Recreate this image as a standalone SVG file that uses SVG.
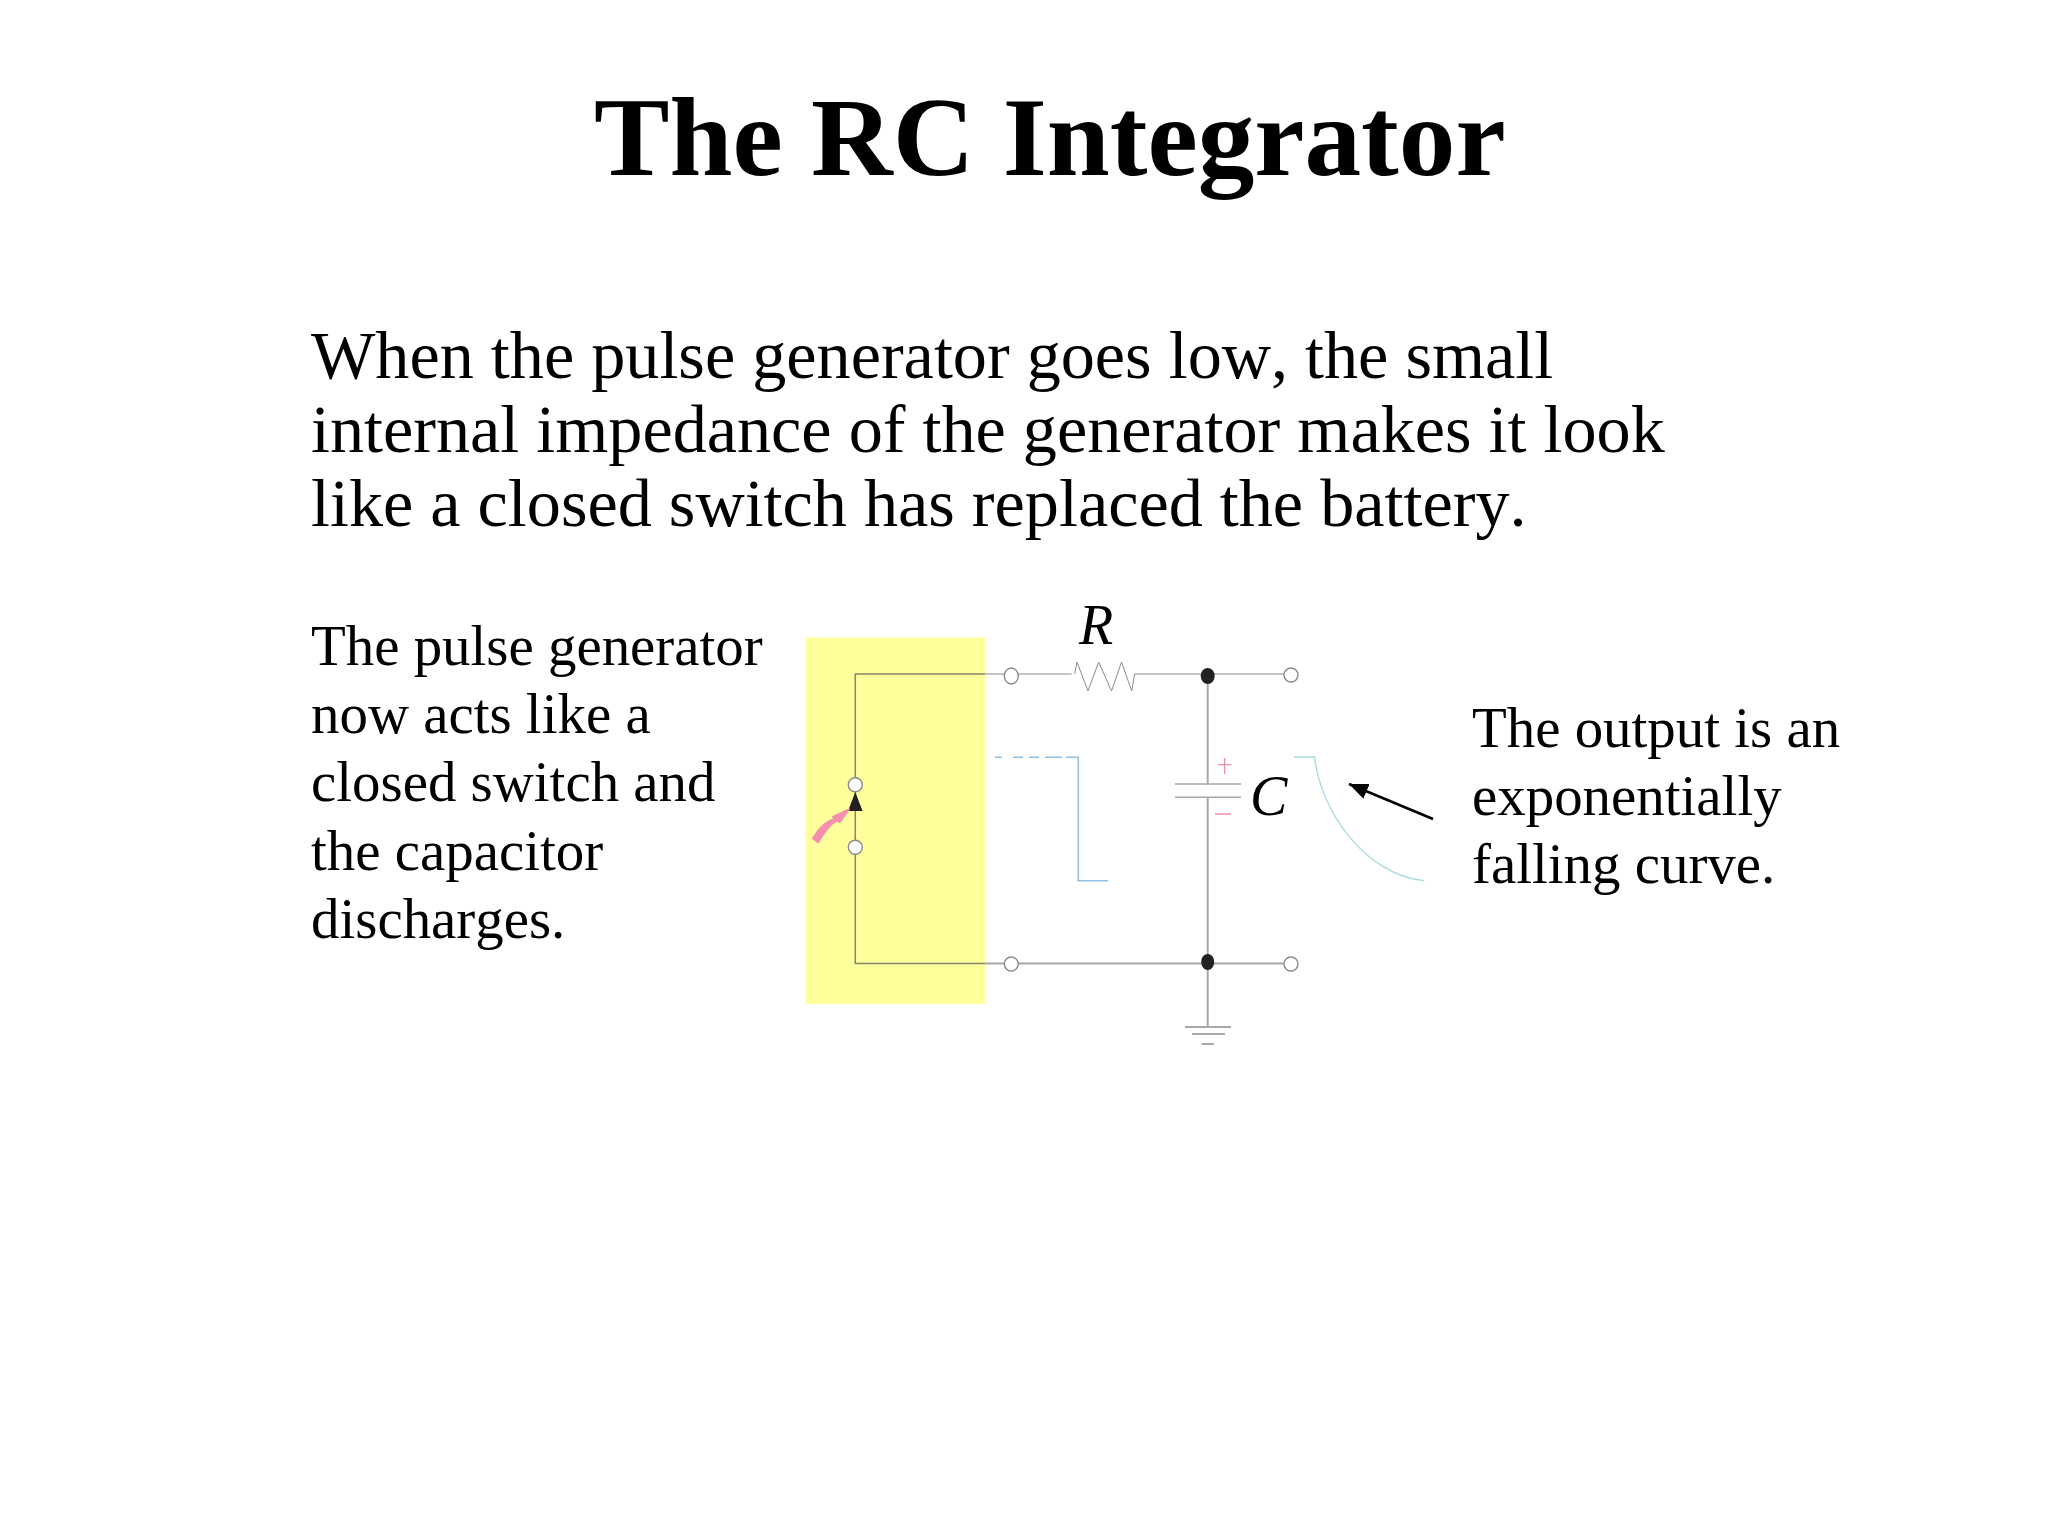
<svg xmlns="http://www.w3.org/2000/svg" width="2048" height="1536" viewBox="0 0 2048 1536">
<style>
text{font-family:"Liberation Serif","Times New Roman",serif;fill:#000;font-kerning:none}
.title{font-size:113.200px;font-weight:bold}
.body{font-size:68.200px}
.side{font-size:56.900px}
.sym{font-size:56px;font-style:italic}
.wire{fill:none;stroke:#a8a8a8;stroke-width:2}
.thin{fill:none;stroke:#8c8c8c;stroke-width:1.200}
.gen{fill:none;stroke:#85856a;stroke-width:1.500}
.term{fill:#fff;stroke:#8a8a8a;stroke-width:1.400}
.dot{fill:#222;stroke:none}
.pol{fill:none;stroke:#ee8fa8;stroke-width:1.300}
</style>
<defs>
<marker id="ah" markerUnits="userSpaceOnUse" markerWidth="20" markerHeight="18" refX="19" refY="8" orient="auto"><path d="M0,0L19,8L0,16Z" fill="#000"/></marker>
</defs>
<rect width="2048" height="1536" fill="#fff"/>
<g id="title"><text class="title" x="594" y="174.500">The RC Integrator</text></g>
<g id="body">
<text class="body" x="311" y="378">When the pulse generator goes low, the small</text>
<text class="body" x="311" y="452">internal impedance of the generator makes it look</text>
<text class="body" x="311" y="525.500">like a closed switch has replaced the battery.</text>
</g>
<g id="left-note">
<text class="side" x="311" y="665">The pulse generator</text>
<text class="side" x="311" y="733">now acts like a</text>
<text class="side" x="311" y="801">closed switch and</text>
<text class="side" x="311" y="870">the capacitor</text>
<text class="side" x="311" y="938">discharges.</text>
</g>
<g id="right-note">
<text class="side" x="1472" y="747">The output is an</text>
<text class="side" x="1472" y="815">exponentially</text>
<text class="side" x="1472" y="883">falling curve.</text>
</g>
<g id="generator"><rect x="805.500" y="637.500" width="179.500" height="366.500" fill="#ffff9c"/></g>
<g id="connectors">
<path class="gen" d="M985,674H855.300V778M855.300,854V963.500H985"/>
<path class="gen" d="M855.300,792V840"/>
<path class="thin" d="M985,674H1004M1018,674H1071.700M1134.700,674H1201M1214,674H1284"/>
<path class="wire" d="M1207.700,684V785M1207.700,797V1027M985,963.500H1004M1018,963.500H1284"/>
<path id="arrow-note" d="M1433,819L1349,784" fill="none" stroke="#000" stroke-width="2.600" marker-end="url(#ah)"/>
</g>
<g id="resistor"><path fill="none" stroke="#8c8c8c" stroke-width="1" d="M1074.700,674L1077,662L1088,691L1098.700,662L1111.500,691L1121.500,662L1131.700,691L1134.700,674"/></g>
<g id="capacitor">
<path class="wire" style="stroke-width:1.500" d="M1175,784H1241M1175,797.300H1241"/>
<path class="pol" d="M1218,764.700H1231.500M1224.700,758V774M1215,814H1231"/>
<text class="sym" x="1250" y="815">C</text>
</g>
<g id="r-label"><text class="sym" x="1079" y="644">R</text></g>
<g id="terminals">
<ellipse class="term" cx="1011.300" cy="676" rx="7" ry="8"/>
<circle class="term" cx="1011.300" cy="964" r="7"/>
<circle class="term" cx="1291" cy="675" r="7"/>
<circle class="term" cx="1291" cy="964" r="7"/>
</g>
<g id="nodes">
<ellipse class="dot" cx="1207.700" cy="676" rx="7" ry="8"/>
<ellipse class="dot" cx="1207.700" cy="962" rx="6.500" ry="8"/>
</g>
<g id="ground"><path class="wire" d="M1185,1027H1231M1192,1034H1225M1201.500,1044H1214"/></g>
<g id="switch">
<circle class="term" cx="855.300" cy="784.700" r="7"/>
<circle class="term" cx="855.300" cy="847.300" r="7"/>
<path d="M855.300,792L862.500,811H848Z" fill="#231f20"/>
<path d="M812.700,838.300C819,828 825,821 834,819L832.700,816.700L849.300,809L840,822.300L837,820.500C829,825 823,834 818.300,842.700Z" fill="#f78fb0" stroke="#f78fb0" stroke-width="1.500" stroke-linejoin="round"/>
</g>
<g id="input-pulse"><path d="M995,757.300H1002M1013,757.300H1023M1029,757.300H1039M1045,757.300H1062M1066,757.300H1078.300V880.700H1108" fill="none" stroke="#8fc0e4" stroke-width="1.600"/></g>
<g id="output-curve"><path d="M1294,757H1314.700C1320,810 1365,875 1424,880.700" fill="none" stroke="#a8dce0" stroke-width="1.300"/></g>
</svg>
